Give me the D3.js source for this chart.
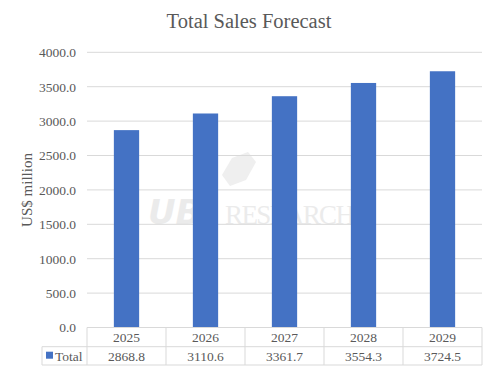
<!DOCTYPE html>
<html><head><meta charset="utf-8">
<script src="https://cdn.jsdelivr.net/npm/d3@7"></script>
<style>body{margin:0;background:#fff}svg{display:block}</style>
</head><body>
<script>
const categories = ["2025","2026","2027","2028","2029"];
const seriesName = "Total";
const values = [2868.8, 3110.6, 3361.7, 3554.3, 3724.5];
const yTicks = [0,500,1000,1500,2000,2500,3000,3500,4000];
const title = "Total Sales Forecast";
const yLabel = "US$ million";

(function () {
const W = 498, H = 373;
const svg = d3.select("body").append("svg").attr("width", W).attr("height", H);
const font = "'Liberation Serif','Times New Roman',serif";
const textColor = "#595959";
const gridColor = "#d9d9d9";
const pLeft = 87, pRight = 482, pTop = 52.3, pBottom = 327.5;

const x = d3.scaleBand().domain(categories).range([pLeft, pRight]).paddingInner(0.68).paddingOuter(0.34);
const xCol = d3.scaleBand().domain(categories).range([pLeft, pRight]);
const y = d3.scaleLinear().domain([0, 4000]).range([pBottom, pTop]);

// title
svg.append("text").attr("x", 249).attr("y", 28).attr("text-anchor", "middle")
  .attr("font-family", font).attr("font-size", 20.5).attr("fill", textColor).text(title);

// grid
svg.append("g").selectAll("line").data(yTicks.filter(d => d > 0)).join("line")
  .attr("x1", pLeft).attr("x2", pRight).attr("y1", d => y(d)).attr("y2", d => y(d))
  .attr("stroke", gridColor).attr("stroke-width", 1);

// y axis tick labels
const yAxis = d3.axisLeft(y).tickValues(yTicks).tickFormat(d3.format(".1f")).tickSize(0).tickPadding(11);
const ya = svg.append("g").attr("transform", `translate(${pLeft},0)`).call(yAxis);
ya.select(".domain").remove();
ya.selectAll("text").attr("font-family", font).attr("font-size", 13.5).attr("fill", textColor);

// y label
svg.append("text").attr("transform", `translate(32,190) rotate(-90)`).attr("text-anchor", "middle")
  .attr("font-family", font).attr("font-size", 15).attr("fill", textColor).text(yLabel);

// watermark
const wm = svg.append("g").attr("opacity", 0.45);
wm.append("text").attr("x", 148).attr("y", 224).attr("font-family", "'DejaVu Sans',sans-serif")
  .attr("font-weight", "bold").attr("font-size", 34).attr("fill", "#d4d4d4").attr("font-style","italic").text("UBi");
wm.append("text").attr("x", 225).attr("y", 224).attr("font-family", font)
  .attr("font-size", 27).attr("fill", "#d4d4d4").attr("textLength", 130).text("RESEARCH");
wm.append("path").attr("d", "M222,175 L232,158 L248,152 L256,162 L246,180 L230,186 Z")
  .attr("fill", "#dcdcdc");

// bars
svg.append("g").selectAll("rect").data(values).join("rect")
  .attr("x", (d, i) => x(categories[i])).attr("width", x.bandwidth())
  .attr("y", d => y(d)).attr("height", d => y(0) - y(d))
  .attr("fill", "#4472C4");

// data table
const tTop = pBottom, tMid = 346.7, tBot = 365, tLeft = 42;
const tg = svg.append("g").attr("stroke", gridColor).attr("stroke-width", 1).attr("fill", "none");
tg.append("line").attr("x1", pLeft).attr("x2", pRight).attr("y1", tTop).attr("y2", tTop);
tg.append("line").attr("x1", tLeft).attr("x2", pRight).attr("y1", tMid).attr("y2", tMid);
tg.append("line").attr("x1", tLeft).attr("x2", pRight).attr("y1", tBot).attr("y2", tBot);
tg.append("line").attr("x1", tLeft).attr("x2", tLeft).attr("y1", tMid).attr("y2", tBot);
tg.selectAll("line.v").data(categories).join("line").attr("class", "v")
  .attr("x1", d => xCol(d)).attr("x2", d => xCol(d)).attr("y1", tTop).attr("y2", tBot);
tg.append("line").attr("x1", pRight).attr("x2", pRight).attr("y1", tTop).attr("y2", tBot);

svg.append("g").selectAll("text").data(categories).join("text")
  .attr("x", d => xCol(d) + xCol.bandwidth() / 2).attr("y", tTop + 14.5).attr("text-anchor", "middle")
  .attr("font-family", font).attr("font-size", 13.5).attr("fill", textColor).text(d => d);
svg.append("g").selectAll("text").data(values).join("text")
  .attr("x", (d, i) => xCol(categories[i]) + xCol.bandwidth() / 2).attr("y", tMid + 14)
  .attr("text-anchor", "middle").attr("font-family", font).attr("font-size", 13.5).attr("fill", textColor)
  .text(d => d3.format(".1f")(d));
svg.append("rect").attr("x", 46).attr("y", tMid + 5).attr("width", 7).attr("height", 7).attr("fill", "#4472C4");
svg.append("text").attr("x", 55).attr("y", tMid + 14).attr("font-family", font).attr("font-size", 13.5)
  .attr("fill", textColor).text(seriesName);
})();
</script>
</body></html>
